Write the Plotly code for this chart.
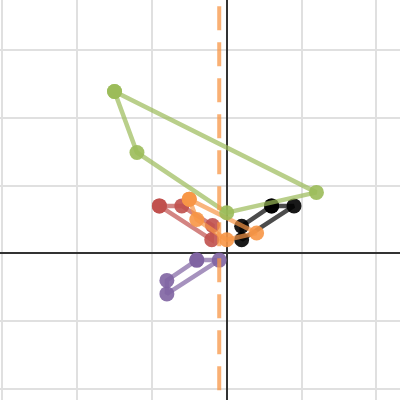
import plotly.graph_objects as go

# point sets, each drawn as a closed loop
green_x = [-1.5, -1.2, 0.0, 1.2]
green_y = [2.39, 1.49, 0.6, 0.9]
red_x = [-0.9, -0.6, -0.19, -0.2]
red_y = [0.7, 0.7, 0.41, 0.2]
purple_x = [-0.4, -0.1, -0.8, -0.8]
purple_y = [-0.1, -0.1, -0.6, -0.4]
black_x = [0.6, 0.9, 0.2, 0.2]
black_y = [0.7, 0.7, 0.2, 0.4]
orange_x = [-0.5, -0.4, 0.0, 0.4]
orange_y = [0.8, 0.5, 0.2, 0.3]
dashed_x = -0.1

series = [
    (red_x, red_y, (192, 80, 77)),
    (purple_x, purple_y, (128, 100, 162)),
    (black_x, black_y, (0, 0, 0)),
    (orange_x, orange_y, (247, 150, 70)),
    (green_x, green_y, (155, 187, 89)),
]

fig = go.Figure()
for xs, ys, (r, g, b) in series:
    fig.add_trace(go.Scatter(
        x=xs + xs[:1], y=ys + ys[:1], mode='lines+markers',
        line=dict(color=f'rgba({r},{g},{b},0.7)', width=4.5),
        marker=dict(size=15, color=f'rgba({r},{g},{b},0.9)'),
        hoverinfo='skip'))

fig.add_trace(go.Scatter(
    x=[dashed_x, dashed_x], y=[-10, 10], mode='lines',
    line=dict(color='rgba(247,150,70,0.75)', width=4, dash='24px,12px'),
    hoverinfo='skip'))

axis = dict(showticklabels=False, ticks='', dtick=1, gridcolor='#e0e0e0', gridwidth=2,
            zeroline=True, zerolinecolor='#333333', zerolinewidth=2, showline=False)
fig.update_xaxes(range=[-3.031, 2.317], tick0=0, **axis)
fig.update_yaxes(range=[-2.167, 3.742], tick0=0, **axis)
fig.update_layout(width=400, height=400, margin=dict(l=0, r=0, t=0, b=0),
                  plot_bgcolor='white', paper_bgcolor='white', showlegend=False)

# drop the default page margin so the plot sits at the window corner
fig.write_html("out.html", config={'displayModeBar': False},
               post_script="document.body.style.margin='0';")
